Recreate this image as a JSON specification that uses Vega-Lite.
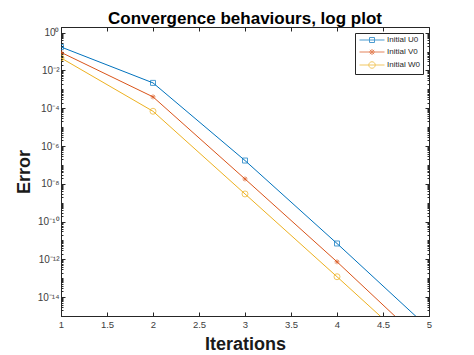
{
  "$schema": "https://vega.github.io/schema/vega-lite/v6.json",
  "autosize": {"type": "none"},
  "width": 368,
  "height": 289,
  "padding": {"left": 61, "top": 27, "right": 45, "bottom": 39},
  "background": "white",
  "title": {
    "text": "Convergence behaviours, log plot",
    "font": "Liberation Sans",
    "fontSize": 17,
    "fontWeight": "bold",
    "color": "#000000",
    "anchor": "middle",
    "baseline": "alphabetic",
    "offset": -16,
    "dy": 3
  },
  "config": {
    "view": {"stroke": "#262626", "strokeWidth": 1},
    "axis": {
      "grid": false,
      "domainColor": "#262626",
      "tickColor": "#262626",
      "labelFont": "Liberation Sans",
      "labelFontSize": 9.5,
      "labelColor": "#404040",
      "titleFont": "Liberation Sans",
      "titleFontSize": 18,
      "titleFontWeight": "bold",
      "titleColor": "#1a1a1a"
    }
  },
  "data": {
    "values": [
      {"iter": 1, "error": 0.175, "series": "Initial U0"},
      {"iter": 2, "error": 0.0022, "series": "Initial U0"},
      {"iter": 3, "error": 1.7e-7, "series": "Initial U0"},
      {"iter": 4, "error": 6.9e-12, "series": "Initial U0"},
      {"iter": 5, "error": 2.2e-16, "series": "Initial U0"},
      {"iter": 1, "error": 0.091, "series": "Initial V0"},
      {"iter": 2, "error": 0.0004, "series": "Initial V0"},
      {"iter": 3, "error": 1.8e-8, "series": "Initial V0"},
      {"iter": 4, "error": 7.4e-13, "series": "Initial V0"},
      {"iter": 5, "error": 2e-17, "series": "Initial V0"},
      {"iter": 1, "error": 0.046, "series": "Initial W0"},
      {"iter": 2, "error": 6.9e-5, "series": "Initial W0"},
      {"iter": 3, "error": 2.9e-9, "series": "Initial W0"},
      {"iter": 4, "error": 1.2e-13, "series": "Initial W0"},
      {"iter": 5, "error": 4.4e-18, "series": "Initial W0"}
    ]
  },
  "layer": [
    {
      "mark": {"type": "line", "clip": true, "strokeWidth": 1},
      "encoding": {
        "x": {
          "field": "iter", "type": "quantitative",
          "scale": {"domain": [1, 5], "nice": false, "zero": false},
          "axis": {
            "orient": "bottom",
            "title": "Iterations",
            "values": [1, 1.5, 2, 2.5, 3, 3.5, 4, 4.5, 5],
            "format": "~g",
            "tickSize": -4,
            "labelPadding": 7,
            "titleX": 184,
            "titleY": 33,
            "titleBaseline": "alphabetic",
            "titleAlign": "center",
            "labelFlush": false
          }
        },
        "y": {
          "field": "error", "type": "quantitative",
          "scale": {"type": "log", "domain": [1e-15, 2], "nice": false},
          "axis": {
            "orient": "left",
            "title": "Error",
            "tickCount": 100,
            "labelOverlap": false,
            "labelFlush": false,
            "labelFontSize": 10,
            "tickSize": {"condition": {"test": "abs(log(datum.value)/LN10 - round(log(datum.value)/LN10)) < 0.001 && round(log(datum.value)/LN10) % 2 == 0", "value": -4}, "value": -2},
            "labelPadding": 6,
            "labelExpr": "(abs(log(datum.value)/LN10 - round(log(datum.value)/LN10)) < 0.001 && round(log(datum.value)/LN10) % 2 == 0) ? '10' + replace(replace(replace(replace(replace(replace(replace('' + round(log(datum.value)/LN10), '-', '⁻'), '0', '⁰'), '1', '¹'), '2', '²'), '4', '⁴'), '6', '⁶'), '8', '⁸') : ''",
            "titleX": -32,
            "titleY": 144.5,
            "titleAngle": -90,
            "titleAlign": "center",
            "titleBaseline": "alphabetic"
          }
        },
        "color": {
          "field": "series", "type": "nominal",
          "scale": {"domain": ["Initial U0", "Initial V0", "Initial W0"], "range": ["#0072BD", "#D95319", "#EDB120"]}
        }
      }
    },
    {
      "transform": [{"filter": "datum.series == 'Initial U0'"}],
      "mark": {"type": "point", "clip": true, "filled": false, "size": 25, "strokeWidth": 1, "shape": "square", "color": "#0072BD"},
      "encoding": {
        "x": {"field": "iter", "type": "quantitative", "axis": null},
        "y": {"field": "error", "type": "quantitative", "axis": null}
      }
    },
    {
      "transform": [{"filter": "datum.series == 'Initial V0'"}],
      "mark": {"type": "point", "clip": true, "filled": false, "size": 25, "strokeWidth": 1, "shape": "M0,-1V1M-1,0H1M-0.7,-0.7L0.7,0.7M-0.7,0.7L0.7,-0.7", "color": "#D95319"},
      "encoding": {
        "x": {"field": "iter", "type": "quantitative", "axis": null},
        "y": {"field": "error", "type": "quantitative", "axis": null}
      }
    },
    {
      "transform": [{"filter": "datum.series == 'Initial W0'"}],
      "mark": {"type": "point", "clip": true, "filled": false, "size": 36, "strokeWidth": 1, "shape": "circle", "color": "#EDB120"},
      "encoding": {
        "x": {"field": "iter", "type": "quantitative", "axis": null},
        "y": {"field": "error", "type": "quantitative", "axis": null}
      }
    },
    {
      "transform": [{"filter": "false"}],
      "mark": {"type": "point", "filled": false, "size": 25, "strokeWidth": 1},
      "encoding": {
        "x": {"field": "iter", "type": "quantitative", "axis": null},
        "y": {"field": "error", "type": "quantitative", "axis": null},
        "color": {
          "field": "series", "type": "nominal",
          "legend": {
            "title": null,
            "orient": "none",
            "legendX": 294,
            "legendY": 6,
            "padding": 3,
            "strokeColor": "#262626",
            "fillColor": "white",
            "labelFont": "Liberation Sans",
            "labelFontSize": 8,
            "labelColor": "#262626",
            "symbolSize": 25,
            "symbolStrokeWidth": 1,
            "symbolOffset": 10,
            "labelOffset": 11,
            "rowPadding": 2
          }
        },
        "shape": {
          "field": "series", "type": "nominal",
          "scale": {"domain": ["Initial U0", "Initial V0", "Initial W0"], "range": ["M-5,0H5M-1,-1H1V1H-1Z", "M-5,0H5M0,-1.2V1.2M-1.2,0H1.2M-0.85,-0.85L0.85,0.85M-0.85,0.85L0.85,-0.85", "M-5,0H5M-1.3,0A1.3,1.3 0 1 1 1.3,0A1.3,1.3 0 1 1 -1.3,0Z"]},
          "legend": {
            "title": null,
            "orient": "none",
            "legendX": 294,
            "legendY": 6,
            "padding": 3,
            "strokeColor": "#262626",
            "fillColor": "white",
            "labelFont": "Liberation Sans",
            "labelFontSize": 8,
            "labelColor": "#262626",
            "symbolSize": 25,
            "symbolStrokeWidth": 1,
            "symbolOffset": 10,
            "labelOffset": 11,
            "rowPadding": 2
          }
        }
      }
    },
    {
      "mark": {"type": "point", "opacity": 0},
      "encoding": {
        "x": {
          "field": "iter", "type": "quantitative",
          "axis": {"orient": "top", "title": null, "labels": false, "domain": false, "values": [1, 1.5, 2, 2.5, 3, 3.5, 4, 4.5, 5], "tickSize": -4}
        },
        "y": {
          "field": "error", "type": "quantitative",
          "axis": {
            "orient": "right", "title": null, "labels": false, "domain": false, "tickCount": 100,
            "tickSize": {"condition": {"test": "abs(log(datum.value)/LN10 - round(log(datum.value)/LN10)) < 0.001 && round(log(datum.value)/LN10) % 2 == 0", "value": -4}, "value": -2}
          }
        }
      }
    }
  ],
  "resolve": {"axis": {"x": "independent", "y": "independent"}}
}
